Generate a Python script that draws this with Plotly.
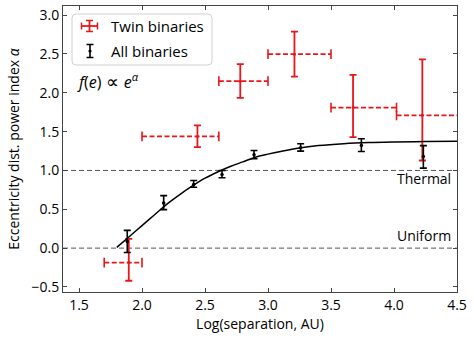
import plotly.graph_objects as go

# ---------------- data ----------------
# Twin binaries (red)
twin_x = [1.895, 2.44, 2.78, 3.21, 3.675, 4.225]
twin_x_lo = [1.70, 2.00, 2.61, 3.00, 3.50, 4.02]
twin_x_hi = [2.00, 2.61, 3.00, 3.50, 4.02, 4.70]
twin_y = [-0.186, 1.438, 2.149, 2.497, 1.809, 1.709]
twin_y_lo = [-0.42, 1.30, 1.933, 2.209, 1.429, 1.128]
twin_y_hi = [0.12, 1.58, 2.368, 2.786, 2.23, 2.43]

# All binaries (black)
all_x = [1.883, 2.172, 2.41, 2.635, 2.889, 3.259, 3.741, 4.233]
all_y = [0.085, 0.581, 0.818, 0.947, 1.201, 1.292, 1.322, 1.18]
all_y_lo = [-0.057, 0.495, 0.783, 0.905, 1.15, 1.248, 1.244, 1.03]
all_y_hi = [0.228, 0.676, 0.87, 1.0, 1.257, 1.344, 1.408, 1.32]

# fitted curve
fit_x = [1.80, 1.90, 2.00, 2.10, 2.20, 2.30, 2.40, 2.50, 2.60, 2.70, 2.80,
         2.90, 3.00, 3.10, 3.25, 3.40, 3.60, 3.80, 4.00, 4.25, 4.50]
fit_y = [0.01, 0.15, 0.29, 0.43, 0.57, 0.69, 0.80, 0.90, 0.98, 1.05, 1.11,
         1.17, 1.21, 1.245, 1.29, 1.32, 1.345, 1.36, 1.367, 1.372, 1.375]

ref_levels = [1.0, 0.0]
ref_labels = ["Thermal", "Uniform"]

x_ticks = [1.5, 2.0, 2.5, 3.0, 3.5, 4.0, 4.5]
y_ticks = [-0.5, 0.0, 0.5, 1.0, 1.5, 2.0, 2.5, 3.0]

# ---------------- figure ----------------
W, H = 474, 339
ML, MR, MT, MB = 63, 17, 6, 47
PW, PH = W - ML - MR, H - MT - MB
FONT = "Open Sans"
RED = "#e8161b"
BLACK = "#000000"


def px(x):
    return (x - ML) / PW


def py(y):
    return (H - MB - y) / PH


fig = go.Figure()

# reference dashed lines
for lvl in ref_levels:
    fig.add_shape(type="line", xref="paper", x0=0, x1=1, yref="y", y0=lvl, y1=lvl,
                  line=dict(color="#555555", width=1, dash="5px,3px"), layer="below")

# red horizontal (dashed) x-error bars
hx, hy = [], []
for lo, hi, y in zip(twin_x_lo, twin_x_hi, twin_y):
    hx += [lo, hi, None]
    hy += [y, y, None]
fig.add_trace(go.Scatter(x=hx, y=hy, mode="lines", showlegend=False,
                         line=dict(color=RED, width=1.8, dash="5px,2.5px"),
                         hoverinfo="skip"))
# caps of x error bars
fig.add_trace(go.Scatter(x=twin_x_lo + twin_x_hi, y=twin_y + twin_y, mode="markers",
                         showlegend=False, hoverinfo="skip",
                         marker=dict(symbol="line-ns", size=7,
                                     line=dict(color=RED, width=1.6))))
# red y error bars
fig.add_trace(go.Scatter(
    x=twin_x, y=twin_y, mode="markers", showlegend=False,
    marker=dict(color=RED, size=3),
    error_y=dict(type="data", symmetric=False,
                 array=[h - y for h, y in zip(twin_y_hi, twin_y)],
                 arrayminus=[y - l for l, y in zip(twin_y_lo, twin_y)],
                 color=RED, thickness=1.8, width=3.5)))

# fitted curve
fig.add_trace(go.Scatter(x=fit_x, y=fit_y, mode="lines", showlegend=False,
                         line=dict(color=BLACK, width=1.5, shape="spline"),
                         hoverinfo="skip"))

# all binaries
fig.add_trace(go.Scatter(
    x=all_x, y=all_y, mode="markers", showlegend=False,
    marker=dict(color=BLACK, size=3.5),
    error_y=dict(type="data", symmetric=False,
                 array=[h - y for h, y in zip(all_y_hi, all_y)],
                 arrayminus=[y - l for l, y in zip(all_y_lo, all_y)],
                 color=BLACK, thickness=1.6, width=3.5)))

# ---------- legend (manual) ----------
lx0, lx1, ly0, ly1, r = 72, 212, 14, 65, 4
path = (f"M {px(lx0 + r)} {py(ly0)} L {px(lx1 - r)} {py(ly0)} "
        f"Q {px(lx1)} {py(ly0)} {px(lx1)} {py(ly0 + r)} "
        f"L {px(lx1)} {py(ly1 - r)} Q {px(lx1)} {py(ly1)} {px(lx1 - r)} {py(ly1)} "
        f"L {px(lx0 + r)} {py(ly1)} Q {px(lx0)} {py(ly1)} {px(lx0)} {py(ly1 - r)} "
        f"L {px(lx0)} {py(ly0 + r)} Q {px(lx0)} {py(ly0)} {px(lx0 + r)} {py(ly0)} Z")
fig.add_shape(type="path", xref="paper", yref="paper", path=path,
              line=dict(color="#d0d0d0", width=1), fillcolor="rgba(255,255,255,0.85)")


def seg(x0, y0, x1, y1, color, w=1.8):
    fig.add_shape(type="line", xref="paper", yref="paper",
                  x0=px(x0), y0=py(y0), x1=px(x1), y1=py(y1),
                  line=dict(color=color, width=w))


# red cross symbol
cx, cy = 89.5, 26
seg(cx - 8, cy, cx + 8, cy, RED)
seg(cx - 8, cy - 3.5, cx - 8, cy + 3.5, RED, 1.5)
seg(cx + 8, cy - 3.5, cx + 8, cy + 3.5, RED, 1.5)
seg(cx, cy - 5.5, cx, cy + 5.5, RED)
seg(cx - 3.5, cy - 5.5, cx + 3.5, cy - 5.5, RED, 1.5)
seg(cx - 3.5, cy + 5.5, cx + 3.5, cy + 5.5, RED, 1.5)
# black bar symbol
bx, by = 90, 51
seg(bx, by - 6.5, bx, by + 6.5, BLACK, 1.6)
seg(bx - 3.5, by - 6.5, bx + 3.5, by - 6.5, BLACK, 1.5)
seg(bx - 3.5, by + 6.5, bx + 3.5, by + 6.5, BLACK, 1.5)
fig.add_shape(type="circle", xref="paper", yref="paper",
              x0=px(bx - 1.6), x1=px(bx + 1.6), y0=py(by - 1.6), y1=py(by + 1.6),
              fillcolor=BLACK, line=dict(width=0))

legend_names = ["Twin binaries", "All binaries"]
for name, yy in zip(legend_names, [cy, by]):
    fig.add_annotation(xref="paper", yref="paper", x=px(109), y=py(yy),
                       text=name, showarrow=False, xanchor="left", yanchor="middle",
                       font=dict(family=FONT, size=15, color="#000"))

# formula
fig.add_annotation(xref="paper", yref="paper", x=px(75), y=py(81),
                   text="<i>f</i>(<i>e</i>)<span style='font-size:18px'> ∝ </span><i>e</i><sup><i>α</i></sup>",
                   showarrow=False, xanchor="left", yanchor="middle",
                   font=dict(family=FONT, size=16, color="#000"))

# reference labels
fig.add_annotation(xref="paper", yref="y", x=px(453), y=ref_levels[0], text=ref_labels[0],
                   showarrow=False, xanchor="right", yanchor="top", yshift=3,
                   font=dict(family=FONT, size=14, color="#000"))
fig.add_annotation(xref="paper", yref="y", x=px(453), y=ref_levels[1], text=ref_labels[1],
                   showarrow=False, xanchor="right", yanchor="bottom", yshift=1,
                   font=dict(family=FONT, size=14, color="#000"))

axis_common = dict(showline=True, linecolor="#444444", linewidth=1, mirror="ticks",
                   ticks="inside", ticklen=4, tickcolor="#444444", tickwidth=1,
                   showgrid=False, zeroline=False,
                   tickfont=dict(family=FONT, size=14, color="#000"))

fig.update_xaxes(range=[1.373, 4.5], tickvals=x_ticks,
                 ticktext=[f"{v:.1f}" for v in x_ticks],
                 title=dict(text="Log(separation, AU)", standoff=6,
                            font=dict(family=FONT, size=14, color="#000")),
                 **axis_common)
fig.update_yaxes(range=[-0.565, 3.117], tickvals=y_ticks,
                 ticktext=[f"{v:.1f}".replace("-", "−") for v in y_ticks],
                 title=dict(text="Eccentricity dist. power index <i>α</i>", standoff=8,
                            font=dict(family=FONT, size=14, color="#000")),
                 **axis_common)

fig.update_layout(width=W, height=H, margin=dict(l=ML, r=MR, t=MT, b=MB),
                  paper_bgcolor="white", plot_bgcolor="white", showlegend=False)

fig.write_html("out.html")
